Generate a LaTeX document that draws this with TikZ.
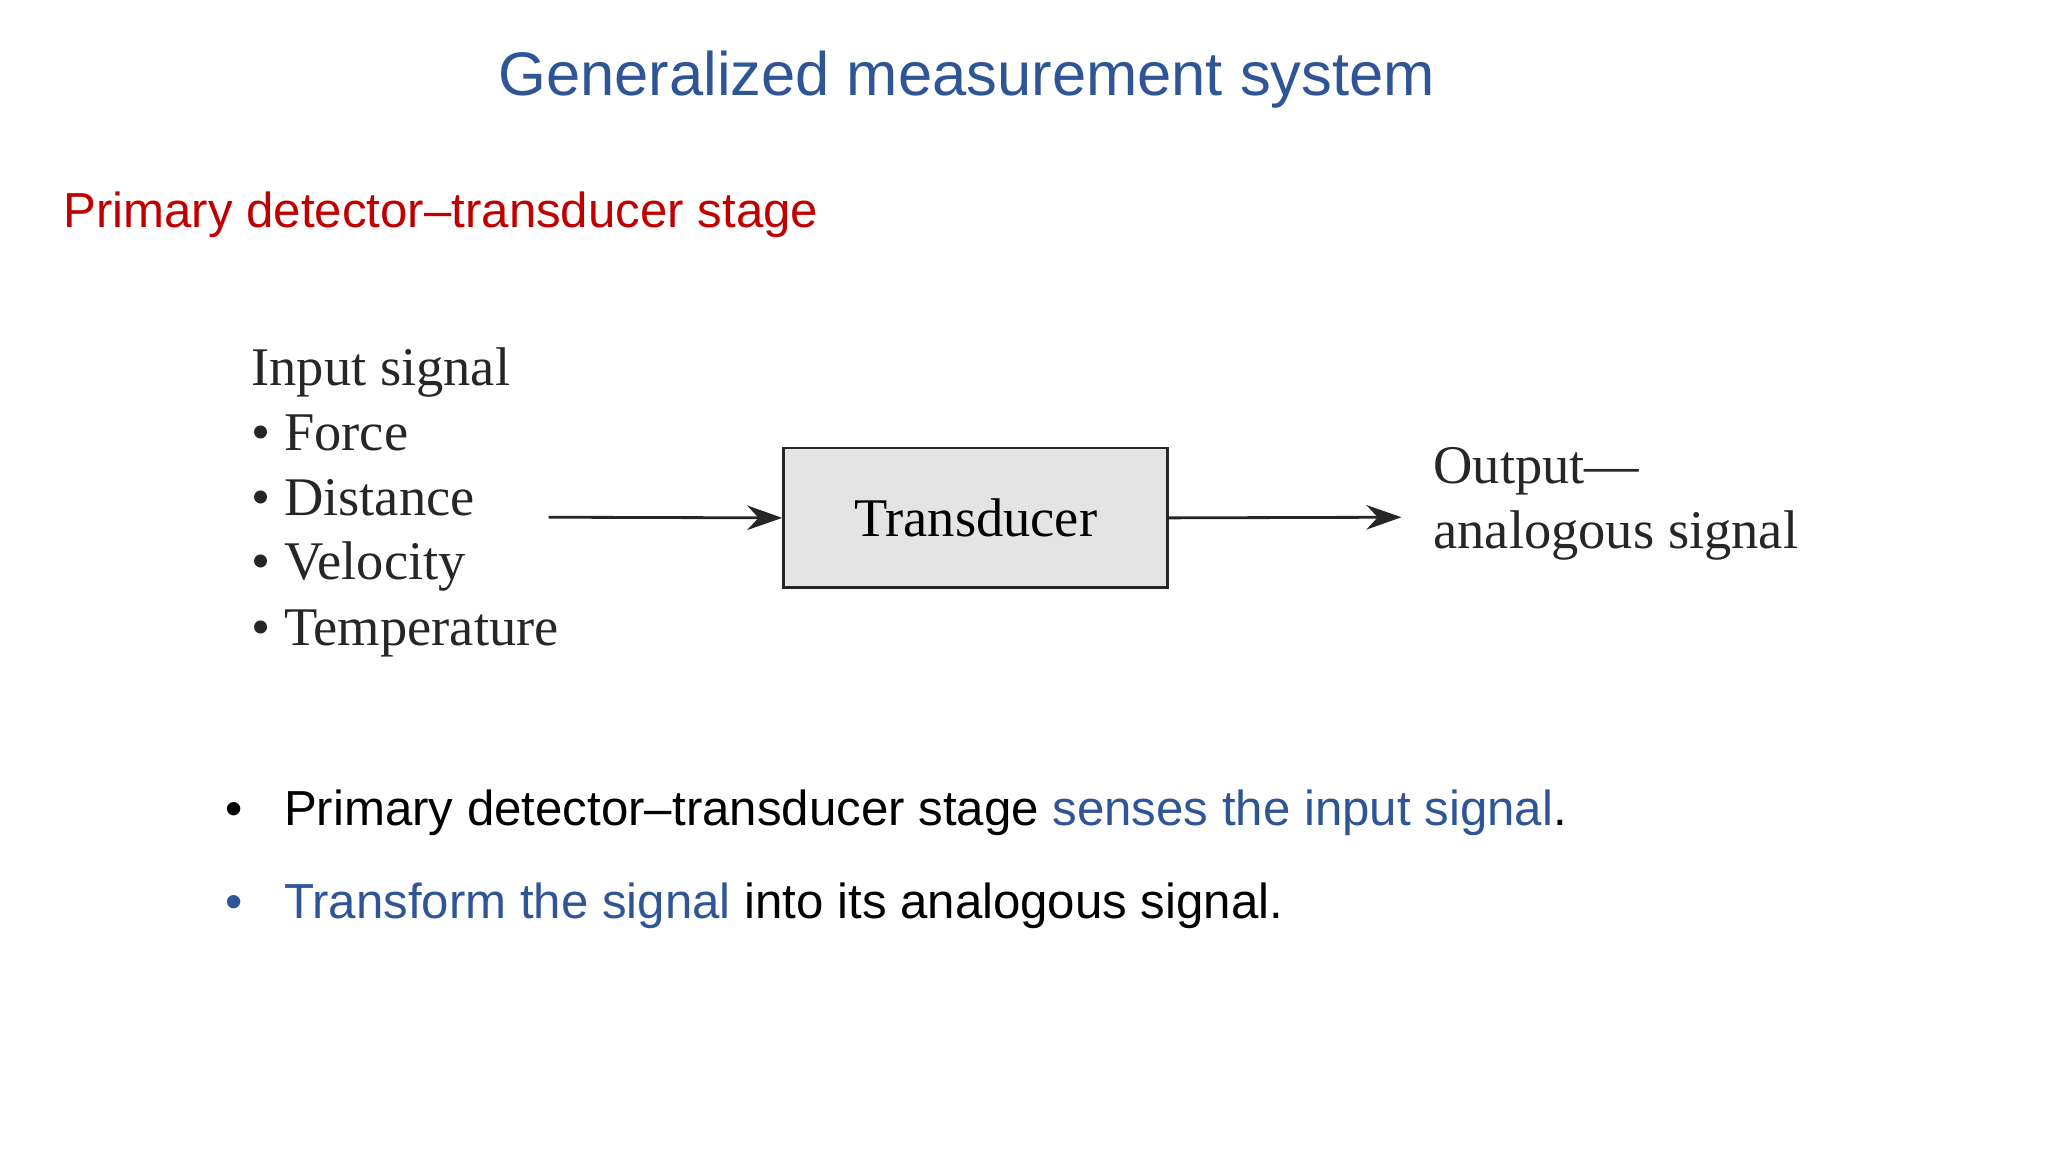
\documentclass[tikz,border=0pt]{standalone}
\usepackage{fontspec}
\setmainfont{Liberation Sans}
\newfontfamily\dserif{Liberation Serif}
\usetikzlibrary{arrows.meta}
\definecolor{tblue}{RGB}{47,85,151}
\definecolor{tred}{RGB}{192,0,0}
\definecolor{boxgray}{RGB}{228,228,228}
\begin{document}
\begin{tikzpicture}[x=0.01306cm,y=-0.01306cm,
  lbl/.style={anchor=base west,inner sep=0pt},
  dtxt/.style={lbl,font=\dserif\fontsize{15.5}{18}\selectfont,text=black!85},
  arr/.style={-{Stealth[length=10pt,width=7pt]},line width=0.8pt,black!85}]
\useasboundingbox (0,0) rectangle (1568,882);
\node[lbl,text=tblue,font=\fontsize{17.5}{21}\selectfont] (title) at (381,73) {Generalized measurement system};
\node[lbl,text=tred,font=\fontsize{14}{17}\selectfont] (head) at (48,174) {Primary detector–transducer stage};
\node[dtxt] (in0) at (192,295) {Input signal};
\node[dtxt] (in1) at (192,345) {\textbullet\ Force};
\node[dtxt] (in2) at (192,395) {\textbullet\ Distance};
\node[dtxt] (in3) at (192,444) {\textbullet\ Velocity};
\node[dtxt] (in4) at (192,494) {\textbullet\ Temperature};
\node[draw=black!85,line width=0.8pt,fill=boxgray,minimum width=294*0.01306cm,minimum height=107*0.01306cm,font=\dserif\fontsize{15.5}{18}\selectfont] (tr) at (747,396.5) {Transducer};
\coordinate (ins) at (420,396);
\coordinate (oute) at (1073,396);
\draw[arr] (ins) -- (tr.west);
\draw[arr] (tr.east) -- (oute);
\node[dtxt] (o1) at (1097,370) {Output—};
\node[dtxt] (o2) at (1097,420) {analogous signal};
\node[lbl,font=\fontsize{14}{17}\selectfont] (b1d) at (172,632) {•};
\node[lbl,font=\fontsize{14}{17}\selectfont] (b1) at (217,632) {Primary detector–transducer stage \textcolor{tblue}{senses the input signal}.};
\node[lbl,text=tblue,font=\fontsize{14}{17}\selectfont] (b2d) at (172,703) {•};
\node[lbl,font=\fontsize{14}{17}\selectfont] (b2) at (217,703) {\textcolor{tblue}{Transform the signal} into its analogous signal.};
\end{tikzpicture}
\end{document}
